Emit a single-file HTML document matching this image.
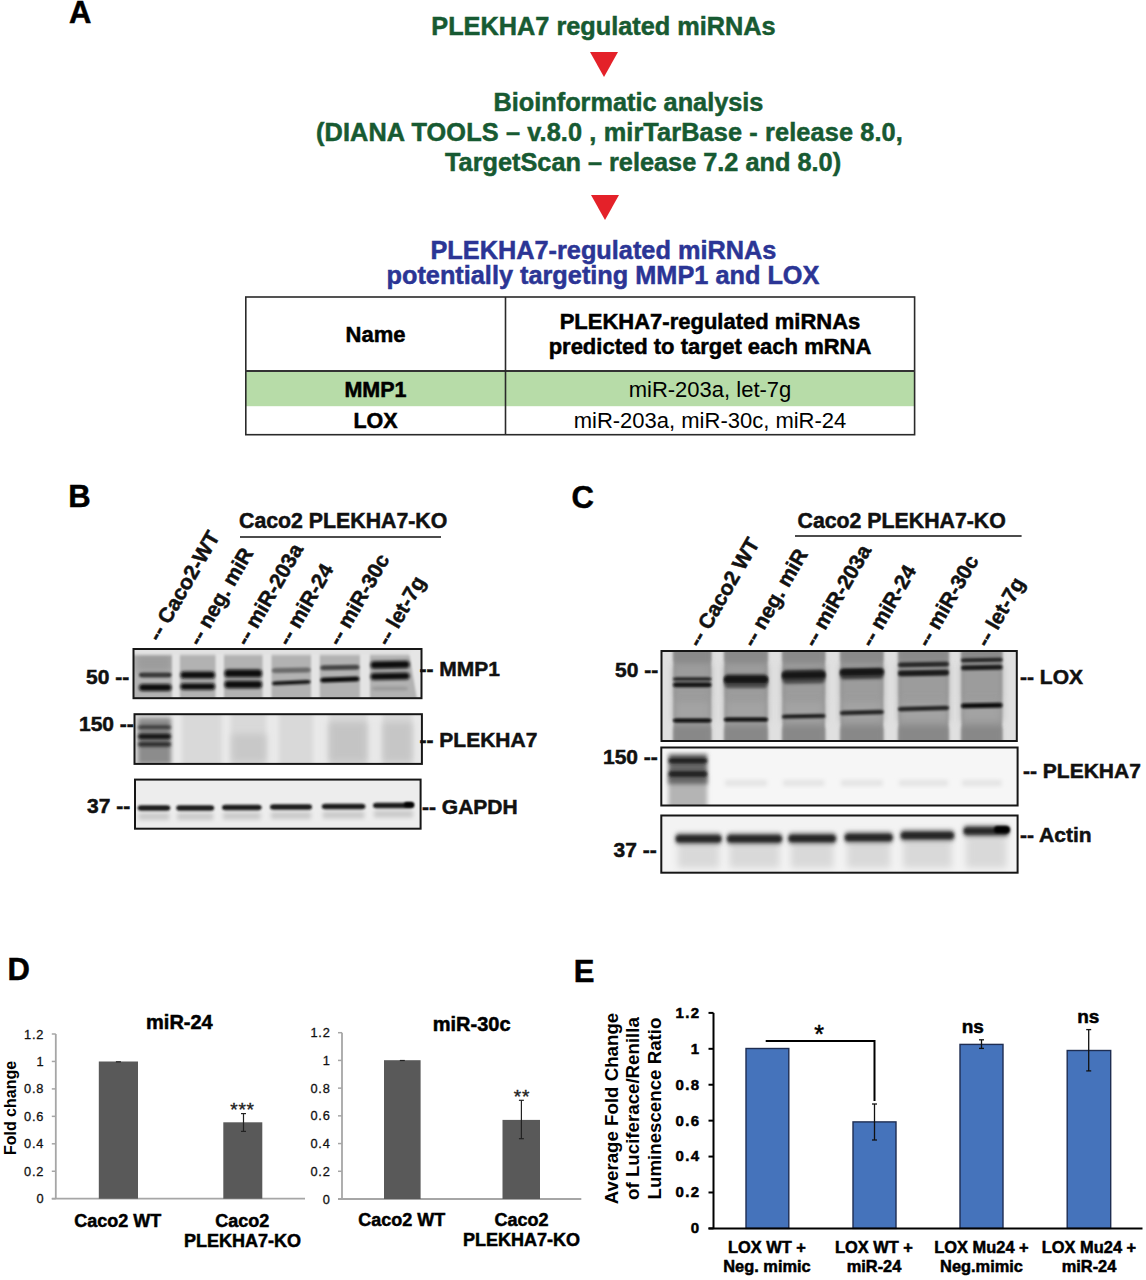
<!DOCTYPE html>
<html><head><meta charset="utf-8"><title>Figure</title>
<style>html,body{margin:0;padding:0;background:#fff;}body{width:1146px;height:1280px;overflow:hidden;}
svg{display:block;font-family:"Liberation Sans",sans-serif;}</style></head>
<body><svg width="1146" height="1280" viewBox="0 0 1146 1280">
<defs><filter id="bl1" x="-30%" y="-300%" width="160%" height="700%"><feGaussianBlur stdDeviation="1.1"/></filter><filter id="bl15" x="-30%" y="-300%" width="160%" height="700%"><feGaussianBlur stdDeviation="1.6"/></filter><filter id="bl2" x="-50%" y="-50%" width="200%" height="200%"><feGaussianBlur stdDeviation="2.2"/></filter><filter id="bl3" x="-50%" y="-50%" width="200%" height="200%"><feGaussianBlur stdDeviation="3.5"/></filter><clipPath id="clip1"><rect x="133.5" y="649" width="288" height="49.2"/></clipPath><clipPath id="clip2"><rect x="134.5" y="714.2" width="287.4" height="49.7"/></clipPath><clipPath id="clip3"><rect x="135" y="779.6" width="285.6" height="49.1"/></clipPath><clipPath id="clip4"><rect x="661.5" y="651" width="355.3" height="90"/></clipPath><clipPath id="clip5"><rect x="661.3" y="747.5" width="356.3" height="58"/></clipPath><clipPath id="clip6"><rect x="661.3" y="815.5" width="356.3" height="57.2"/></clipPath></defs>
<rect width="1146" height="1280" fill="#fff"/>
<text x="69" y="23.3" font-size="31" font-weight="bold" text-anchor="start" fill="#000" stroke="#000" stroke-width="0.5" >A</text>
<text x="603.5" y="35" font-size="25.3" font-weight="bold" text-anchor="middle" fill="#175a32" stroke="#175a32" stroke-width="0.5" >PLEKHA7 regulated miRNAs</text>
<polygon points="590,52 618,52 604,77" fill="#e42129"/>
<text x="493.5" y="110.5" font-size="25.3" font-weight="bold" text-anchor="start" fill="#175a32" stroke="#175a32" stroke-width="0.5" >Bioinformatic analysis</text>
<text x="316" y="140.8" font-size="25.3" font-weight="bold" text-anchor="start" fill="#175a32" stroke="#175a32" stroke-width="0.5" letter-spacing="0.12">(DIANA TOOLS – v.8.0 , mirTarBase - release 8.0,</text>
<text x="445" y="171.4" font-size="25.3" font-weight="bold" text-anchor="start" fill="#175a32" stroke="#175a32" stroke-width="0.5" >TargetScan – release 7.2 and 8.0)</text>
<polygon points="591,195 619,195 605,220" fill="#e42129"/>
<text x="430.5" y="259.2" font-size="25.3" font-weight="bold" text-anchor="start" fill="#2b3595" stroke="#2b3595" stroke-width="0.5" >PLEKHA7-regulated miRNAs</text>
<text x="386.5" y="283.6" font-size="25.3" font-weight="bold" text-anchor="start" fill="#2b3595" stroke="#2b3595" stroke-width="0.5" >potentially targeting MMP1 and LOX</text>
<rect x="246" y="371" width="668" height="35.2" fill="#b7dca8"/>
<rect x="245.8" y="297" width="668.8" height="137.7" fill="none" stroke="#2a2a2a" stroke-width="1.6"/>
<line x1="245" y1="371" x2="915" y2="371" stroke="#333" stroke-width="2"/>
<line x1="505.5" y1="297" x2="505.5" y2="435" stroke="#2a2a2a" stroke-width="1.6"/>
<text x="375.5" y="341.8" font-size="22" font-weight="bold" text-anchor="middle" fill="#000" stroke="#000" stroke-width="0.5" >Name</text>
<text x="710" y="329" font-size="22" font-weight="bold" text-anchor="middle" fill="#000" stroke="#000" stroke-width="0.5" >PLEKHA7-regulated miRNAs</text>
<text x="710" y="354.4" font-size="22" font-weight="bold" text-anchor="middle" fill="#000" stroke="#000" stroke-width="0.5" >predicted to target each mRNA</text>
<text x="375.5" y="397" font-size="21.5" font-weight="bold" text-anchor="middle" fill="#000" stroke="#000" stroke-width="0.5" >MMP1</text>
<text x="375.5" y="428" font-size="21.5" font-weight="bold" text-anchor="middle" fill="#000" stroke="#000" stroke-width="0.5" >LOX</text>
<text x="710" y="397" font-size="22" font-weight="normal" text-anchor="middle" fill="#000" >miR-203a, let-7g</text>
<text x="710" y="428" font-size="22" font-weight="normal" text-anchor="middle" fill="#000" >miR-203a, miR-30c, miR-24</text>
<text x="68.3" y="507" font-size="31" font-weight="bold" text-anchor="start" fill="#000" stroke="#000" stroke-width="0.5" >B</text>
<text x="239" y="528.3" font-size="21.3" font-weight="bold" text-anchor="start" fill="#111" stroke="#111" stroke-width="0.5" >Caco2 PLEKHA7-KO</text>
<line x1="240" y1="537" x2="441" y2="537" stroke="#111" stroke-width="1.6"/>
<g clip-path="url(#clip1)">
<rect x="133.5" y="649" width="288" height="49.2" fill="#bcbcbc"/>
<rect x="130.0" y="640.0" width="300.0" height="70.0" fill="#b2b2b2" opacity="1"/>
<rect x="136.0" y="652.0" width="36.0" height="20.0" fill="#9c9c9c" opacity="1" filter="url(#bl3)"/>
<rect x="172.0" y="640.0" width="7.9" height="70.0" fill="#e4e4e4" opacity="1" filter="url(#bl1)"/>
<rect x="215.5" y="640.0" width="8.5" height="70.0" fill="#e4e4e4" opacity="1" filter="url(#bl1)"/>
<rect x="262.5" y="640.0" width="9.0" height="70.0" fill="#e4e4e4" opacity="1" filter="url(#bl1)"/>
<rect x="311.0" y="640.0" width="8.8" height="70.0" fill="#e4e4e4" opacity="1" filter="url(#bl1)"/>
<rect x="359.9" y="640.0" width="10.1" height="70.0" fill="#e4e4e4" opacity="1" filter="url(#bl1)"/>
<rect x="130.0" y="646.0" width="300.0" height="9.0" fill="#e2e2e2" opacity="1" filter="url(#bl15)"/>
<polygon points="409,652 425,645 425,705 418,705" fill="#e6e6e6" filter="url(#bl1)"/>
<rect x="139.0" y="672.6" width="32.5" height="4.8" rx="3.5" ry="2.4" fill="#383838" opacity="1" filter="url(#bl1)" transform="rotate(0 155.2 675)"/>
<rect x="139.0" y="683.9" width="32.5" height="7" rx="3.5" ry="3.5" fill="#0b0b0b" opacity="1" filter="url(#bl15)" transform="rotate(0 155.2 687.4)"/>
<rect x="180.4" y="671.5" width="34.6" height="7" rx="3.5" ry="3.5" fill="#0f0f0f" opacity="1" filter="url(#bl15)" transform="rotate(0 197.7 675)"/>
<rect x="180.4" y="683.2" width="34.6" height="6.5" rx="3.5" ry="3.25" fill="#0b0b0b" opacity="1" filter="url(#bl15)" transform="rotate(0 197.7 686.5)"/>
<rect x="224.5" y="669.5" width="37.5" height="7.8" rx="3.5" ry="3.9" fill="#0b0b0b" opacity="1" filter="url(#bl15)" transform="rotate(0 243.2 673.4)"/>
<rect x="224.5" y="680.8" width="37.5" height="7.5" rx="3.5" ry="3.75" fill="#0b0b0b" opacity="1" filter="url(#bl15)" transform="rotate(0 243.2 684.5)"/>
<rect x="272.0" y="667.7" width="38.5" height="5" rx="3.5" ry="2.5" fill="#6a6a6a" opacity="1" filter="url(#bl1)" transform="rotate(-1 291.2 670.2)"/>
<rect x="272.0" y="680.7" width="38.5" height="3.8" rx="3.5" ry="1.9" fill="#111" opacity="1" filter="url(#bl1)" transform="rotate(-2.5 291.2 682.6)"/>
<rect x="320.3" y="665.0" width="39.1" height="5" rx="3.5" ry="2.5" fill="#474747" opacity="1" filter="url(#bl1)" transform="rotate(-1 339.9 667.5)"/>
<rect x="320.3" y="677.0" width="39.1" height="5" rx="3.5" ry="2.5" fill="#0d0d0d" opacity="1" filter="url(#bl1)" transform="rotate(-2 339.9 679.5)"/>
<rect x="370.5" y="661.0" width="39.1" height="7.5" rx="3.5" ry="3.75" fill="#0b0b0b" opacity="1" filter="url(#bl15)" transform="rotate(-1 390.1 664.8)"/>
<rect x="370.5" y="672.8" width="39.1" height="7" rx="3.5" ry="3.5" fill="#0b0b0b" opacity="1" filter="url(#bl15)" transform="rotate(-1 390.1 676.3)"/>
<rect x="372.0" y="686.8" width="36.0" height="3.5" rx="3.5" ry="1.75" fill="#999" opacity="1" filter="url(#bl15)" transform="rotate(0 390.0 688.5)"/>
</g>
<rect x="133.5" y="649" width="288" height="49.2" fill="none" stroke="#161616" stroke-width="2"/>
<g clip-path="url(#clip2)">
<rect x="134.5" y="714.2" width="287.4" height="49.7" fill="#d9d9d9"/>
<rect x="130.0" y="705.0" width="300.0" height="65.0" fill="#d9d9d9" opacity="1"/>
<rect x="170.6" y="705.0" width="11.4" height="65.0" fill="#e9e9e9" opacity="1" filter="url(#bl2)"/>
<rect x="221.6" y="705.0" width="9.2" height="65.0" fill="#e9e9e9" opacity="1" filter="url(#bl2)"/>
<rect x="266.0" y="705.0" width="13.0" height="65.0" fill="#e9e9e9" opacity="1" filter="url(#bl2)"/>
<rect x="313.0" y="705.0" width="16.0" height="65.0" fill="#e9e9e9" opacity="1" filter="url(#bl2)"/>
<rect x="367.0" y="705.0" width="15.6" height="65.0" fill="#e9e9e9" opacity="1" filter="url(#bl2)"/>
<rect x="412.0" y="705.0" width="18.0" height="65.0" fill="#e9e9e9" opacity="1" filter="url(#bl2)"/>
<rect x="138.0" y="718.0" width="33.0" height="46.0" fill="#8c8c8c" opacity="1" filter="url(#bl2)"/>
<rect x="138.0" y="725.3" width="33.0" height="4" rx="3.5" ry="2.0" fill="#3a3a3a" opacity="1" filter="url(#bl15)" transform="rotate(0 154.5 727.3)"/>
<rect x="138.0" y="733.4" width="33.0" height="6" rx="3.5" ry="3.0" fill="#181818" opacity="1" filter="url(#bl15)" transform="rotate(0 154.5 736.4)"/>
<rect x="138.0" y="741.8" width="33.0" height="5" rx="3.5" ry="2.5" fill="#2e2e2e" opacity="1" filter="url(#bl15)" transform="rotate(0 154.5 744.3)"/>
<rect x="232.0" y="734.0" width="34.0" height="28.0" fill="#c8c8c8" opacity="1" filter="url(#bl3)"/>
<rect x="329.0" y="722.0" width="38.0" height="40.0" fill="#c4c4c4" opacity="1" filter="url(#bl3)"/>
<rect x="383.0" y="722.0" width="29.0" height="40.0" fill="#c6c6c6" opacity="1" filter="url(#bl3)"/>
</g>
<rect x="134.5" y="714.2" width="287.4" height="49.7" fill="none" stroke="#161616" stroke-width="2"/>
<g clip-path="url(#clip3)">
<rect x="135" y="779.6" width="285.6" height="49.1" fill="#ededed"/>
<rect x="138.6" y="813.0" width="30.7" height="7.0" fill="#c9c9c9" opacity="1" filter="url(#bl2)"/>
<rect x="177.2" y="813.0" width="36.0" height="7.0" fill="#c9c9c9" opacity="1" filter="url(#bl2)"/>
<rect x="223.0" y="812.5" width="37.6" height="7.0" fill="#c9c9c9" opacity="1" filter="url(#bl2)"/>
<rect x="271.0" y="812.0" width="40.0" height="7.0" fill="#c9c9c9" opacity="1" filter="url(#bl2)"/>
<rect x="322.8" y="811.5" width="41.6" height="7.0" fill="#c9c9c9" opacity="1" filter="url(#bl2)"/>
<rect x="374.0" y="810.5" width="39.0" height="7.0" fill="#c9c9c9" opacity="1" filter="url(#bl2)"/>
<rect x="137.6" y="805.2" width="32.7" height="5.5" rx="3.5" ry="2.75" fill="#1a1a1a" opacity="1" filter="url(#bl1)" transform="rotate(0 153.9 808)"/>
<rect x="176.2" y="805.2" width="38.0" height="5.5" rx="3.5" ry="2.75" fill="#1a1a1a" opacity="1" filter="url(#bl1)" transform="rotate(0 195.2 808)"/>
<rect x="222.0" y="804.8" width="39.6" height="5.5" rx="3.5" ry="2.75" fill="#1a1a1a" opacity="1" filter="url(#bl1)" transform="rotate(0 241.8 807.5)"/>
<rect x="270.0" y="804.2" width="42.0" height="5.5" rx="3.5" ry="2.75" fill="#1a1a1a" opacity="1" filter="url(#bl1)" transform="rotate(0 291.0 807)"/>
<rect x="321.8" y="803.8" width="43.6" height="5.5" rx="3.5" ry="2.75" fill="#1a1a1a" opacity="1" filter="url(#bl1)" transform="rotate(0 343.6 806.5)"/>
<rect x="373.0" y="802.8" width="41.0" height="5.5" rx="3.5" ry="2.75" fill="#1a1a1a" opacity="1" filter="url(#bl1)" transform="rotate(0 393.5 805.5)"/>
<rect x="404.0" y="802.0" width="10.0" height="5" rx="2.5" ry="2.5" fill="#000" opacity="1" filter="url(#bl1)" transform="rotate(0 409.0 804.5)"/>
</g>
<rect x="135" y="779.6" width="285.6" height="49.1" fill="none" stroke="#161616" stroke-width="2"/>
<text x="86" y="684" font-size="21" font-weight="bold" text-anchor="start" fill="#111" stroke="#111" stroke-width="0.5" >50 --</text>
<text x="79" y="731.4" font-size="21" font-weight="bold" text-anchor="start" fill="#111" stroke="#111" stroke-width="0.5" >150 --</text>
<text x="87" y="813" font-size="21" font-weight="bold" text-anchor="start" fill="#111" stroke="#111" stroke-width="0.5" >37 --</text>
<text x="419.5" y="676" font-size="21" font-weight="bold" text-anchor="start" fill="#111" stroke="#111" stroke-width="0.5" >-- MMP1</text>
<text x="419.5" y="746.8" font-size="21" font-weight="bold" text-anchor="start" fill="#111" stroke="#111" stroke-width="0.5" >-- PLEKHA7</text>
<text x="422" y="813.5" font-size="21" font-weight="bold" text-anchor="start" fill="#111" stroke="#111" stroke-width="0.5" >-- GAPDH</text>
<text transform="translate(159.2 642.5) rotate(-60)" font-size="21" font-weight="bold" fill="#111" stroke="#111" stroke-width="0.5">-- Caco2-WT</text>
<text transform="translate(199.7 647) rotate(-60)" font-size="21" font-weight="bold" fill="#111" stroke="#111" stroke-width="0.5">-- neg. miR</text>
<text transform="translate(247.2 647) rotate(-60)" font-size="21" font-weight="bold" fill="#111" stroke="#111" stroke-width="0.5">-- miR-203a</text>
<text transform="translate(289.1 647) rotate(-60)" font-size="21" font-weight="bold" fill="#111" stroke="#111" stroke-width="0.5">-- miR-24</text>
<text transform="translate(339.4 647) rotate(-60)" font-size="21" font-weight="bold" fill="#111" stroke="#111" stroke-width="0.5">-- miR-30c</text>
<text transform="translate(388.2 647) rotate(-60)" font-size="21" font-weight="bold" fill="#111" stroke="#111" stroke-width="0.5">-- let-7g</text>
<text x="571.4" y="507.5" font-size="31" font-weight="bold" text-anchor="start" fill="#000" stroke="#000" stroke-width="0.5" >C</text>
<text x="797.5" y="528" font-size="21.3" font-weight="bold" text-anchor="start" fill="#111" stroke="#111" stroke-width="0.5" >Caco2 PLEKHA7-KO</text>
<line x1="795" y1="536" x2="1021.6" y2="536" stroke="#111" stroke-width="1.6"/>
<g clip-path="url(#clip4)">
<rect x="661.5" y="651" width="355.3" height="90" fill="#dadada"/>
<rect x="655.0" y="645.0" width="370.0" height="100.0" fill="#e0e0e0" opacity="1"/>
<rect x="673.5" y="640.0" width="37.5" height="110.0" fill="#929292" opacity="1" filter="url(#bl1)"/>
<rect x="674.0" y="664.0" width="36.5" height="36.0" fill="#9c9c9c" opacity="1" filter="url(#bl3)"/>
<rect x="674.0" y="700.0" width="36.5" height="22.0" fill="#a3a3a3" opacity="1" filter="url(#bl3)"/>
<rect x="674.0" y="727.0" width="36.5" height="23.0" fill="#888888" opacity="1" filter="url(#bl2)"/>
<rect x="674.0" y="645.0" width="36.5" height="17.0" fill="#8a8a8a" opacity="1" filter="url(#bl2)"/>
<rect x="724.5" y="640.0" width="43.0" height="110.0" fill="#929292" opacity="1" filter="url(#bl1)"/>
<rect x="725.0" y="664.0" width="42.0" height="36.0" fill="#9c9c9c" opacity="1" filter="url(#bl3)"/>
<rect x="725.0" y="700.0" width="42.0" height="22.0" fill="#a3a3a3" opacity="1" filter="url(#bl3)"/>
<rect x="725.0" y="727.0" width="42.0" height="23.0" fill="#888888" opacity="1" filter="url(#bl2)"/>
<rect x="725.0" y="645.0" width="42.0" height="17.0" fill="#8a8a8a" opacity="1" filter="url(#bl2)"/>
<rect x="782.5" y="640.0" width="42.4" height="110.0" fill="#929292" opacity="1" filter="url(#bl1)"/>
<rect x="783.0" y="664.0" width="41.4" height="36.0" fill="#9c9c9c" opacity="1" filter="url(#bl3)"/>
<rect x="783.0" y="700.0" width="41.4" height="22.0" fill="#a3a3a3" opacity="1" filter="url(#bl3)"/>
<rect x="783.0" y="727.0" width="41.4" height="23.0" fill="#888888" opacity="1" filter="url(#bl2)"/>
<rect x="783.0" y="645.0" width="41.4" height="17.0" fill="#8a8a8a" opacity="1" filter="url(#bl2)"/>
<rect x="840.5" y="640.0" width="42.7" height="110.0" fill="#929292" opacity="1" filter="url(#bl1)"/>
<rect x="841.0" y="664.0" width="41.7" height="36.0" fill="#9c9c9c" opacity="1" filter="url(#bl3)"/>
<rect x="841.0" y="700.0" width="41.7" height="22.0" fill="#a3a3a3" opacity="1" filter="url(#bl3)"/>
<rect x="841.0" y="727.0" width="41.7" height="23.0" fill="#888888" opacity="1" filter="url(#bl2)"/>
<rect x="841.0" y="645.0" width="41.7" height="17.0" fill="#8a8a8a" opacity="1" filter="url(#bl2)"/>
<rect x="898.5" y="640.0" width="50.0" height="110.0" fill="#929292" opacity="1" filter="url(#bl1)"/>
<rect x="899.0" y="664.0" width="49.0" height="36.0" fill="#9c9c9c" opacity="1" filter="url(#bl3)"/>
<rect x="899.0" y="700.0" width="49.0" height="22.0" fill="#a3a3a3" opacity="1" filter="url(#bl3)"/>
<rect x="899.0" y="727.0" width="49.0" height="23.0" fill="#888888" opacity="1" filter="url(#bl2)"/>
<rect x="899.0" y="645.0" width="49.0" height="17.0" fill="#8a8a8a" opacity="1" filter="url(#bl2)"/>
<rect x="961.5" y="640.0" width="40.6" height="110.0" fill="#929292" opacity="1" filter="url(#bl1)"/>
<rect x="962.0" y="664.0" width="39.6" height="36.0" fill="#9c9c9c" opacity="1" filter="url(#bl3)"/>
<rect x="962.0" y="700.0" width="39.6" height="22.0" fill="#a3a3a3" opacity="1" filter="url(#bl3)"/>
<rect x="962.0" y="727.0" width="39.6" height="23.0" fill="#888888" opacity="1" filter="url(#bl2)"/>
<rect x="962.0" y="645.0" width="39.6" height="17.0" fill="#8a8a8a" opacity="1" filter="url(#bl2)"/>
<rect x="673.0" y="677.2" width="38.5" height="3.5" rx="3.5" ry="1.75" fill="#262626" opacity="1" filter="url(#bl1)" transform="rotate(0 692.2 679)"/>
<rect x="673.0" y="682.3" width="38.5" height="5" rx="3.5" ry="2.5" fill="#141414" opacity="1" filter="url(#bl1)" transform="rotate(0 692.2 684.8)"/>
<rect x="673.0" y="718.6" width="38.5" height="3.8" rx="3.5" ry="1.9" fill="#080808" opacity="1" filter="url(#bl1)" transform="rotate(0 692.2 720.5)"/>
<rect x="724.0" y="674.0" width="44.0" height="14" rx="3.5" ry="7.0" fill="#484848" opacity="1" filter="url(#bl15)" transform="rotate(0 746.0 681)"/>
<rect x="724.0" y="676.0" width="44.0" height="7" rx="3.5" ry="3.5" fill="#161616" opacity="1" filter="url(#bl1)" transform="rotate(0 746.0 679.5)"/>
<rect x="724.0" y="717.6" width="44.0" height="4" rx="3.5" ry="2.0" fill="#0b0b0b" opacity="1" filter="url(#bl1)" transform="rotate(0 746.0 719.6)"/>
<rect x="782.0" y="669.5" width="43.4" height="14" rx="3.5" ry="7.0" fill="#444" opacity="1" filter="url(#bl15)" transform="rotate(-1 803.7 676.5)"/>
<rect x="782.0" y="671.5" width="43.4" height="7" rx="3.5" ry="3.5" fill="#141414" opacity="1" filter="url(#bl1)" transform="rotate(-1 803.7 675)"/>
<rect x="782.0" y="714.3" width="43.4" height="4" rx="3.5" ry="2.0" fill="#1a1a1a" opacity="1" filter="url(#bl1)" transform="rotate(-1 803.7 716.3)"/>
<rect x="840.0" y="668.0" width="43.7" height="11" rx="3.5" ry="5.5" fill="#3a3a3a" opacity="1" filter="url(#bl15)" transform="rotate(-1 861.9 673.5)"/>
<rect x="840.0" y="669.0" width="43.7" height="6" rx="3.5" ry="3.0" fill="#151515" opacity="1" filter="url(#bl1)" transform="rotate(-1 861.9 672)"/>
<rect x="840.0" y="710.5" width="43.7" height="4" rx="3.5" ry="2.0" fill="#1a1a1a" opacity="1" filter="url(#bl1)" transform="rotate(-1.5 861.9 712.5)"/>
<rect x="898.0" y="662.0" width="51.0" height="5" rx="3.5" ry="2.5" fill="#2a2a2a" opacity="1" filter="url(#bl1)" transform="rotate(-1 923.5 664.5)"/>
<rect x="898.0" y="670.0" width="51.0" height="6" rx="3.5" ry="3.0" fill="#1a1a1a" opacity="1" filter="url(#bl1)" transform="rotate(-1 923.5 673)"/>
<rect x="898.0" y="706.5" width="51.0" height="4" rx="3.5" ry="2.0" fill="#1a1a1a" opacity="1" filter="url(#bl1)" transform="rotate(-1.5 923.5 708.5)"/>
<rect x="961.0" y="658.0" width="41.6" height="4" rx="3.5" ry="2.0" fill="#262626" opacity="1" filter="url(#bl1)" transform="rotate(-1 981.8 660)"/>
<rect x="961.0" y="665.0" width="41.6" height="5" rx="3.5" ry="2.5" fill="#1a1a1a" opacity="1" filter="url(#bl1)" transform="rotate(-1 981.8 667.5)"/>
<rect x="961.0" y="703.0" width="41.6" height="5" rx="3.5" ry="2.5" fill="#080808" opacity="1" filter="url(#bl1)" transform="rotate(-1 981.8 705.5)"/>
</g>
<rect x="661.5" y="651" width="355.3" height="90" fill="none" stroke="#161616" stroke-width="2"/>
<g clip-path="url(#clip5)">
<rect x="661.3" y="747.5" width="356.3" height="58" fill="#f6f6f6"/>
<rect x="668.5" y="775.0" width="38.7" height="37.0" fill="#b4b4b4" opacity="1" filter="url(#bl2)"/>
<rect x="668.5" y="754.0" width="38.7" height="30.0" fill="#666666" opacity="1" filter="url(#bl2)"/>
<rect x="668.5" y="758.2" width="38.7" height="5" rx="3.5" ry="2.5" fill="#1e1e1e" opacity="1" filter="url(#bl15)" transform="rotate(0 687.9 760.7)"/>
<rect x="668.5" y="771.0" width="38.7" height="6" rx="3.5" ry="3.0" fill="#222" opacity="1" filter="url(#bl15)" transform="rotate(0 687.9 774)"/>
<rect x="725.0" y="780.0" width="42.0" height="6.0" fill="#e3e3e3" opacity="1" filter="url(#bl2)"/>
<rect x="783.0" y="780.0" width="41.4" height="6.0" fill="#e3e3e3" opacity="1" filter="url(#bl2)"/>
<rect x="841.0" y="780.0" width="41.7" height="6.0" fill="#e3e3e3" opacity="1" filter="url(#bl2)"/>
<rect x="899.0" y="780.0" width="49.0" height="6.0" fill="#e3e3e3" opacity="1" filter="url(#bl2)"/>
<rect x="962.0" y="780.0" width="39.6" height="6.0" fill="#e3e3e3" opacity="1" filter="url(#bl2)"/>
</g>
<rect x="661.3" y="747.5" width="356.3" height="58" fill="none" stroke="#161616" stroke-width="2"/>
<g clip-path="url(#clip6)">
<rect x="661.3" y="815.5" width="356.3" height="57.2" fill="#f3f3f3"/>
<rect x="677.9" y="842.7" width="41.3" height="25.3" fill="#d9d9d9" opacity="1" filter="url(#bl3)"/>
<rect x="729.3" y="842.7" width="50.4" height="25.3" fill="#d9d9d9" opacity="1" filter="url(#bl3)"/>
<rect x="790.7" y="842.5" width="42.9" height="25.5" fill="#d9d9d9" opacity="1" filter="url(#bl3)"/>
<rect x="847.0" y="841.6" width="43.4" height="26.4" fill="#d9d9d9" opacity="1" filter="url(#bl3)"/>
<rect x="903.0" y="839.5" width="48.8" height="28.5" fill="#d9d9d9" opacity="1" filter="url(#bl3)"/>
<rect x="965.8" y="835.0" width="40.8" height="33.0" fill="#d9d9d9" opacity="1" filter="url(#bl3)"/>
<rect x="674.9" y="832.7" width="47.3" height="12" rx="3.5" ry="6.0" fill="#8a8a8a" opacity="1" filter="url(#bl2)" transform="rotate(0 698.5 838.7)"/>
<rect x="726.3" y="832.7" width="56.4" height="12" rx="3.5" ry="6.0" fill="#8a8a8a" opacity="1" filter="url(#bl2)" transform="rotate(0 754.5 838.7)"/>
<rect x="787.7" y="832.5" width="48.9" height="12" rx="3.5" ry="6.0" fill="#8a8a8a" opacity="1" filter="url(#bl2)" transform="rotate(0 812.2 838.5)"/>
<rect x="844.0" y="831.6" width="49.4" height="12" rx="3.5" ry="6.0" fill="#8a8a8a" opacity="1" filter="url(#bl2)" transform="rotate(0 868.7 837.6)"/>
<rect x="900.0" y="829.5" width="54.8" height="12" rx="3.5" ry="6.0" fill="#8a8a8a" opacity="1" filter="url(#bl2)" transform="rotate(0 927.4 835.5)"/>
<rect x="962.8" y="825.0" width="46.8" height="12" rx="3.5" ry="6.0" fill="#8a8a8a" opacity="1" filter="url(#bl2)" transform="rotate(0 986.2 831)"/>
<rect x="675.9" y="835.2" width="45.3" height="7" rx="3.5" ry="3.5" fill="#262626" opacity="1" filter="url(#bl15)" transform="rotate(0 698.5 838.7)"/>
<rect x="727.3" y="835.2" width="54.4" height="7" rx="3.5" ry="3.5" fill="#262626" opacity="1" filter="url(#bl15)" transform="rotate(0 754.5 838.7)"/>
<rect x="788.7" y="835.0" width="46.9" height="7" rx="3.5" ry="3.5" fill="#262626" opacity="1" filter="url(#bl15)" transform="rotate(0 812.2 838.5)"/>
<rect x="845.0" y="834.1" width="47.4" height="7" rx="3.5" ry="3.5" fill="#262626" opacity="1" filter="url(#bl15)" transform="rotate(0 868.7 837.6)"/>
<rect x="901.0" y="832.0" width="52.8" height="7" rx="3.5" ry="3.5" fill="#262626" opacity="1" filter="url(#bl15)" transform="rotate(0 927.4 835.5)"/>
<rect x="963.8" y="827.5" width="44.8" height="7" rx="3.5" ry="3.5" fill="#262626" opacity="1" filter="url(#bl15)" transform="rotate(0 986.2 831)"/>
<rect x="994.0" y="826.0" width="16.0" height="7" rx="3.5" ry="3.5" fill="#000" opacity="1" filter="url(#bl1)" transform="rotate(0 1002.0 829.5)"/>
</g>
<rect x="661.3" y="815.5" width="356.3" height="57.2" fill="none" stroke="#161616" stroke-width="2"/>
<text x="615" y="677.4" font-size="21" font-weight="bold" text-anchor="start" fill="#111" stroke="#111" stroke-width="0.5" >50 --</text>
<text x="603" y="764.3" font-size="21" font-weight="bold" text-anchor="start" fill="#111" stroke="#111" stroke-width="0.5" >150 --</text>
<text x="613.5" y="857.3" font-size="21" font-weight="bold" text-anchor="start" fill="#111" stroke="#111" stroke-width="0.5" >37 --</text>
<text x="1020" y="684" font-size="21" font-weight="bold" text-anchor="start" fill="#111" stroke="#111" stroke-width="0.5" >-- LOX</text>
<text x="1023" y="777.5" font-size="21" font-weight="bold" text-anchor="start" fill="#111" stroke="#111" stroke-width="0.5" >-- PLEKHA7</text>
<text x="1020" y="842" font-size="21" font-weight="bold" text-anchor="start" fill="#111" stroke="#111" stroke-width="0.5" >-- Actin</text>
<text transform="translate(699.5 648.2) rotate(-60)" font-size="21" font-weight="bold" fill="#111" stroke="#111" stroke-width="0.5">-- Caco2 WT</text>
<text transform="translate(754.1 648.2) rotate(-60)" font-size="21" font-weight="bold" fill="#111" stroke="#111" stroke-width="0.5">-- neg. miR</text>
<text transform="translate(815.2 648.2) rotate(-60)" font-size="21" font-weight="bold" fill="#111" stroke="#111" stroke-width="0.5">-- miR-203a</text>
<text transform="translate(871.9 648.2) rotate(-60)" font-size="21" font-weight="bold" fill="#111" stroke="#111" stroke-width="0.5">-- miR-24</text>
<text transform="translate(928.5 648.2) rotate(-60)" font-size="21" font-weight="bold" fill="#111" stroke="#111" stroke-width="0.5">-- miR-30c</text>
<text transform="translate(987.5 648.2) rotate(-60)" font-size="21" font-weight="bold" fill="#111" stroke="#111" stroke-width="0.5">-- let-7g</text>
<text x="7.6" y="980.4" font-size="31" font-weight="bold" text-anchor="start" fill="#000" stroke="#000" stroke-width="0.5" >D</text>
<line x1="55.8" y1="1034" x2="55.8" y2="1198.7" stroke="#a6a6a6" stroke-width="1.8"/>
<line x1="51.8" y1="1198.7" x2="55.8" y2="1198.7" stroke="#a6a6a6" stroke-width="1.5"/>
<text x="44.3" y="1203.2" font-size="12.8" font-weight="normal" text-anchor="end" fill="#111" stroke="#111" stroke-width="0.3" letter-spacing="0.8">0</text>
<line x1="51.8" y1="1171.25" x2="55.8" y2="1171.25" stroke="#a6a6a6" stroke-width="1.5"/>
<text x="44.3" y="1175.75" font-size="12.8" font-weight="normal" text-anchor="end" fill="#111" stroke="#111" stroke-width="0.3" letter-spacing="0.8">0.2</text>
<line x1="51.8" y1="1143.8" x2="55.8" y2="1143.8" stroke="#a6a6a6" stroke-width="1.5"/>
<text x="44.3" y="1148.3" font-size="12.8" font-weight="normal" text-anchor="end" fill="#111" stroke="#111" stroke-width="0.3" letter-spacing="0.8">0.4</text>
<line x1="51.8" y1="1116.35" x2="55.8" y2="1116.35" stroke="#a6a6a6" stroke-width="1.5"/>
<text x="44.3" y="1120.85" font-size="12.8" font-weight="normal" text-anchor="end" fill="#111" stroke="#111" stroke-width="0.3" letter-spacing="0.8">0.6</text>
<line x1="51.8" y1="1088.9" x2="55.8" y2="1088.9" stroke="#a6a6a6" stroke-width="1.5"/>
<text x="44.3" y="1093.4" font-size="12.8" font-weight="normal" text-anchor="end" fill="#111" stroke="#111" stroke-width="0.3" letter-spacing="0.8">0.8</text>
<line x1="51.8" y1="1061.45" x2="55.8" y2="1061.45" stroke="#a6a6a6" stroke-width="1.5"/>
<text x="44.3" y="1065.95" font-size="12.8" font-weight="normal" text-anchor="end" fill="#111" stroke="#111" stroke-width="0.3" letter-spacing="0.8">1</text>
<line x1="51.8" y1="1034.0" x2="55.8" y2="1034.0" stroke="#a6a6a6" stroke-width="1.5"/>
<text x="44.3" y="1038.5" font-size="12.8" font-weight="normal" text-anchor="end" fill="#111" stroke="#111" stroke-width="0.3" letter-spacing="0.8">1.2</text>
<line x1="51.8" y1="1198.7" x2="305" y2="1198.7" stroke="#a6a6a6" stroke-width="1.8"/>
<rect x="98.8" y="1061.5" width="39.2" height="137.20000000000005" fill="#595959"/>
<rect x="223.3" y="1122.3" width="39.0" height="76.40000000000009" fill="#595959"/>
<line x1="115.9" y1="1061.8" x2="120.9" y2="1061.8" stroke="#222" stroke-width="1.2"/>
<line x1="243.5" y1="1113.6" x2="243.5" y2="1131.4" stroke="#222" stroke-width="1.2"/>
<line x1="241.0" y1="1113.6" x2="246.0" y2="1113.6" stroke="#222" stroke-width="1.2"/>
<line x1="241.0" y1="1131.4" x2="246.0" y2="1131.4" stroke="#222" stroke-width="1.2"/>
<text x="242.5" y="1116" font-size="19" font-weight="normal" text-anchor="middle" fill="#222" stroke="#222" stroke-width="0.4" letter-spacing="0.8">***</text>
<text x="179.4" y="1028.5" font-size="20" font-weight="bold" text-anchor="middle" fill="#000" stroke="#000" stroke-width="0.5" >miR-24</text>
<text x="117.8" y="1226.7" font-size="18" font-weight="bold" text-anchor="middle" fill="#000" stroke="#000" stroke-width="0.5" >Caco2 WT</text>
<text x="242.3" y="1226.7" font-size="18" font-weight="bold" text-anchor="middle" fill="#000" stroke="#000" stroke-width="0.5" >Caco2</text>
<text x="242.6" y="1246.5" font-size="18" font-weight="bold" text-anchor="middle" fill="#000" stroke="#000" stroke-width="0.5" >PLEKHA7-KO</text>
<line x1="342" y1="1032.7" x2="342" y2="1199" stroke="#a6a6a6" stroke-width="1.8"/>
<line x1="338" y1="1199.0" x2="342" y2="1199.0" stroke="#a6a6a6" stroke-width="1.5"/>
<text x="330.6" y="1203.5" font-size="12.8" font-weight="normal" text-anchor="end" fill="#111" stroke="#111" stroke-width="0.3" letter-spacing="0.8">0</text>
<line x1="338" y1="1171.2833333333333" x2="342" y2="1171.2833333333333" stroke="#a6a6a6" stroke-width="1.5"/>
<text x="330.6" y="1175.7833333333333" font-size="12.8" font-weight="normal" text-anchor="end" fill="#111" stroke="#111" stroke-width="0.3" letter-spacing="0.8">0.2</text>
<line x1="338" y1="1143.5666666666666" x2="342" y2="1143.5666666666666" stroke="#a6a6a6" stroke-width="1.5"/>
<text x="330.6" y="1148.0666666666666" font-size="12.8" font-weight="normal" text-anchor="end" fill="#111" stroke="#111" stroke-width="0.3" letter-spacing="0.8">0.4</text>
<line x1="338" y1="1115.85" x2="342" y2="1115.85" stroke="#a6a6a6" stroke-width="1.5"/>
<text x="330.6" y="1120.35" font-size="12.8" font-weight="normal" text-anchor="end" fill="#111" stroke="#111" stroke-width="0.3" letter-spacing="0.8">0.6</text>
<line x1="338" y1="1088.1333333333334" x2="342" y2="1088.1333333333334" stroke="#a6a6a6" stroke-width="1.5"/>
<text x="330.6" y="1092.6333333333334" font-size="12.8" font-weight="normal" text-anchor="end" fill="#111" stroke="#111" stroke-width="0.3" letter-spacing="0.8">0.8</text>
<line x1="338" y1="1060.4166666666667" x2="342" y2="1060.4166666666667" stroke="#a6a6a6" stroke-width="1.5"/>
<text x="330.6" y="1064.9166666666667" font-size="12.8" font-weight="normal" text-anchor="end" fill="#111" stroke="#111" stroke-width="0.3" letter-spacing="0.8">1</text>
<line x1="338" y1="1032.7" x2="342" y2="1032.7" stroke="#a6a6a6" stroke-width="1.5"/>
<text x="330.6" y="1037.2" font-size="12.8" font-weight="normal" text-anchor="end" fill="#111" stroke="#111" stroke-width="0.3" letter-spacing="0.8">1.2</text>
<line x1="338" y1="1199" x2="581.3" y2="1199" stroke="#a6a6a6" stroke-width="1.8"/>
<rect x="384" y="1060.2" width="36.60000000000002" height="138.79999999999995" fill="#595959"/>
<rect x="502.5" y="1119.9" width="37.5" height="79.09999999999991" fill="#595959"/>
<line x1="399.8" y1="1060.5" x2="404.8" y2="1060.5" stroke="#222" stroke-width="1.2"/>
<line x1="521.4" y1="1100.3" x2="521.4" y2="1138.7" stroke="#222" stroke-width="1.2"/>
<line x1="518.9" y1="1100.3" x2="523.9" y2="1100.3" stroke="#222" stroke-width="1.2"/>
<line x1="518.9" y1="1138.7" x2="523.9" y2="1138.7" stroke="#222" stroke-width="1.2"/>
<text x="522" y="1103" font-size="19" font-weight="normal" text-anchor="middle" fill="#222" stroke="#222" stroke-width="0.4" letter-spacing="0.8">**</text>
<text x="471.7" y="1031.4" font-size="20" font-weight="bold" text-anchor="middle" fill="#000" stroke="#000" stroke-width="0.5" >miR-30c</text>
<text x="401.7" y="1225.7" font-size="18" font-weight="bold" text-anchor="middle" fill="#000" stroke="#000" stroke-width="0.5" >Caco2 WT</text>
<text x="521.5" y="1225.7" font-size="18" font-weight="bold" text-anchor="middle" fill="#000" stroke="#000" stroke-width="0.5" >Caco2</text>
<text x="521.5" y="1246" font-size="18" font-weight="bold" text-anchor="middle" fill="#000" stroke="#000" stroke-width="0.5" >PLEKHA7-KO</text>
<text transform="translate(15.5 1108) rotate(-90)" font-size="16" font-weight="bold" text-anchor="middle">Fold change</text>
<text x="573.7" y="982" font-size="31" font-weight="bold" text-anchor="start" fill="#000" stroke="#000" stroke-width="0.5" >E</text>
<rect x="746" y="1048.5" width="42.799999999999955" height="179.9000000000001" fill="#4573bb" stroke="#1e2d52" stroke-width="1.4"/>
<rect x="853" y="1121.9" width="43" height="106.5" fill="#4573bb" stroke="#1e2d52" stroke-width="1.4"/>
<rect x="960" y="1044.4" width="43" height="184.0" fill="#4573bb" stroke="#1e2d52" stroke-width="1.4"/>
<rect x="1067.2" y="1050.5" width="43.5" height="177.9000000000001" fill="#4573bb" stroke="#1e2d52" stroke-width="1.4"/>
<line x1="713.5" y1="1012.9" x2="713.5" y2="1228.4" stroke="#000" stroke-width="2"/>
<line x1="708.5" y1="1228.4" x2="713.5" y2="1228.4" stroke="#000" stroke-width="2"/>
<text x="700.3" y="1233.3000000000002" font-size="15" font-weight="bold" text-anchor="end" fill="#000" stroke="#000" stroke-width="0.5" letter-spacing="1.3">0</text>
<line x1="708.5" y1="1192.4833333333333" x2="713.5" y2="1192.4833333333333" stroke="#000" stroke-width="2"/>
<text x="700.3" y="1197.3833333333334" font-size="15" font-weight="bold" text-anchor="end" fill="#000" stroke="#000" stroke-width="0.5" letter-spacing="1.3">0.2</text>
<line x1="708.5" y1="1156.5666666666666" x2="713.5" y2="1156.5666666666666" stroke="#000" stroke-width="2"/>
<text x="700.3" y="1161.4666666666667" font-size="15" font-weight="bold" text-anchor="end" fill="#000" stroke="#000" stroke-width="0.5" letter-spacing="1.3">0.4</text>
<line x1="708.5" y1="1120.65" x2="713.5" y2="1120.65" stroke="#000" stroke-width="2"/>
<text x="700.3" y="1125.5500000000002" font-size="15" font-weight="bold" text-anchor="end" fill="#000" stroke="#000" stroke-width="0.5" letter-spacing="1.3">0.6</text>
<line x1="708.5" y1="1084.7333333333333" x2="713.5" y2="1084.7333333333333" stroke="#000" stroke-width="2"/>
<text x="700.3" y="1089.6333333333334" font-size="15" font-weight="bold" text-anchor="end" fill="#000" stroke="#000" stroke-width="0.5" letter-spacing="1.3">0.8</text>
<line x1="708.5" y1="1048.8166666666666" x2="713.5" y2="1048.8166666666666" stroke="#000" stroke-width="2"/>
<text x="700.3" y="1053.7166666666667" font-size="15" font-weight="bold" text-anchor="end" fill="#000" stroke="#000" stroke-width="0.5" letter-spacing="1.3">1</text>
<line x1="708.5" y1="1012.9" x2="713.5" y2="1012.9" stroke="#000" stroke-width="2"/>
<text x="700.3" y="1017.8" font-size="15" font-weight="bold" text-anchor="end" fill="#000" stroke="#000" stroke-width="0.5" letter-spacing="1.3">1.2</text>
<line x1="708.5" y1="1228.4" x2="1142.5" y2="1228.4" stroke="#000" stroke-width="2"/>
<line x1="874.5" y1="1104" x2="874.5" y2="1140" stroke="#111" stroke-width="1.3"/>
<line x1="872.0" y1="1104" x2="877.0" y2="1104" stroke="#111" stroke-width="1.3"/>
<line x1="872.0" y1="1140" x2="877.0" y2="1140" stroke="#111" stroke-width="1.3"/>
<line x1="981.5" y1="1039.8" x2="981.5" y2="1048.4" stroke="#111" stroke-width="1.3"/>
<line x1="979.0" y1="1039.8" x2="984.0" y2="1039.8" stroke="#111" stroke-width="1.3"/>
<line x1="979.0" y1="1048.4" x2="984.0" y2="1048.4" stroke="#111" stroke-width="1.3"/>
<line x1="1088.7" y1="1029.6" x2="1088.7" y2="1070.9" stroke="#111" stroke-width="1.3"/>
<line x1="1086.2" y1="1029.6" x2="1091.2" y2="1029.6" stroke="#111" stroke-width="1.3"/>
<line x1="1086.2" y1="1070.9" x2="1091.2" y2="1070.9" stroke="#111" stroke-width="1.3"/>
<polyline points="765.7,1041 874.5,1041 874.5,1101" fill="none" stroke="#000" stroke-width="2"/>
<text x="819" y="1043" font-size="25" font-weight="normal" text-anchor="middle" fill="#000" stroke="#000" stroke-width="0.5">*</text>
<text x="972.8" y="1033" font-size="19" font-weight="bold" text-anchor="middle" fill="#000" stroke="#000" stroke-width="0.5" >ns</text>
<text x="1088.3" y="1022.8" font-size="19" font-weight="bold" text-anchor="middle" fill="#000" stroke="#000" stroke-width="0.5" >ns</text>
<text x="767" y="1253.3" font-size="16.4" font-weight="bold" text-anchor="middle" fill="#000" stroke="#000" stroke-width="0.5" >LOX WT +</text>
<text x="767" y="1272" font-size="16.4" font-weight="bold" text-anchor="middle" fill="#000" stroke="#000" stroke-width="0.5" >Neg. mimic</text>
<text x="874" y="1253.3" font-size="16.4" font-weight="bold" text-anchor="middle" fill="#000" stroke="#000" stroke-width="0.5" >LOX WT +</text>
<text x="874" y="1272" font-size="16.4" font-weight="bold" text-anchor="middle" fill="#000" stroke="#000" stroke-width="0.5" >miR-24</text>
<text x="981.5" y="1253.3" font-size="16.4" font-weight="bold" text-anchor="middle" fill="#000" stroke="#000" stroke-width="0.5" >LOX Mu24 +</text>
<text x="981.5" y="1272" font-size="16.4" font-weight="bold" text-anchor="middle" fill="#000" stroke="#000" stroke-width="0.5" >Neg.mimic</text>
<text x="1089" y="1253.3" font-size="16.4" font-weight="bold" text-anchor="middle" fill="#000" stroke="#000" stroke-width="0.5" >LOX Mu24 +</text>
<text x="1089" y="1272" font-size="16.4" font-weight="bold" text-anchor="middle" fill="#000" stroke="#000" stroke-width="0.5" >miR-24</text>
<text transform="translate(618.2 1108.5) rotate(-90)" font-size="18.7" font-weight="bold" text-anchor="middle">Average Fold Change</text>
<text transform="translate(638.6 1108.5) rotate(-90)" font-size="18.7" font-weight="bold" text-anchor="middle">of Luciferace/Renilla</text>
<text transform="translate(660.5 1108.5) rotate(-90)" font-size="18.7" font-weight="bold" text-anchor="middle">Luminescence Ratio</text>
</svg></body></html>
